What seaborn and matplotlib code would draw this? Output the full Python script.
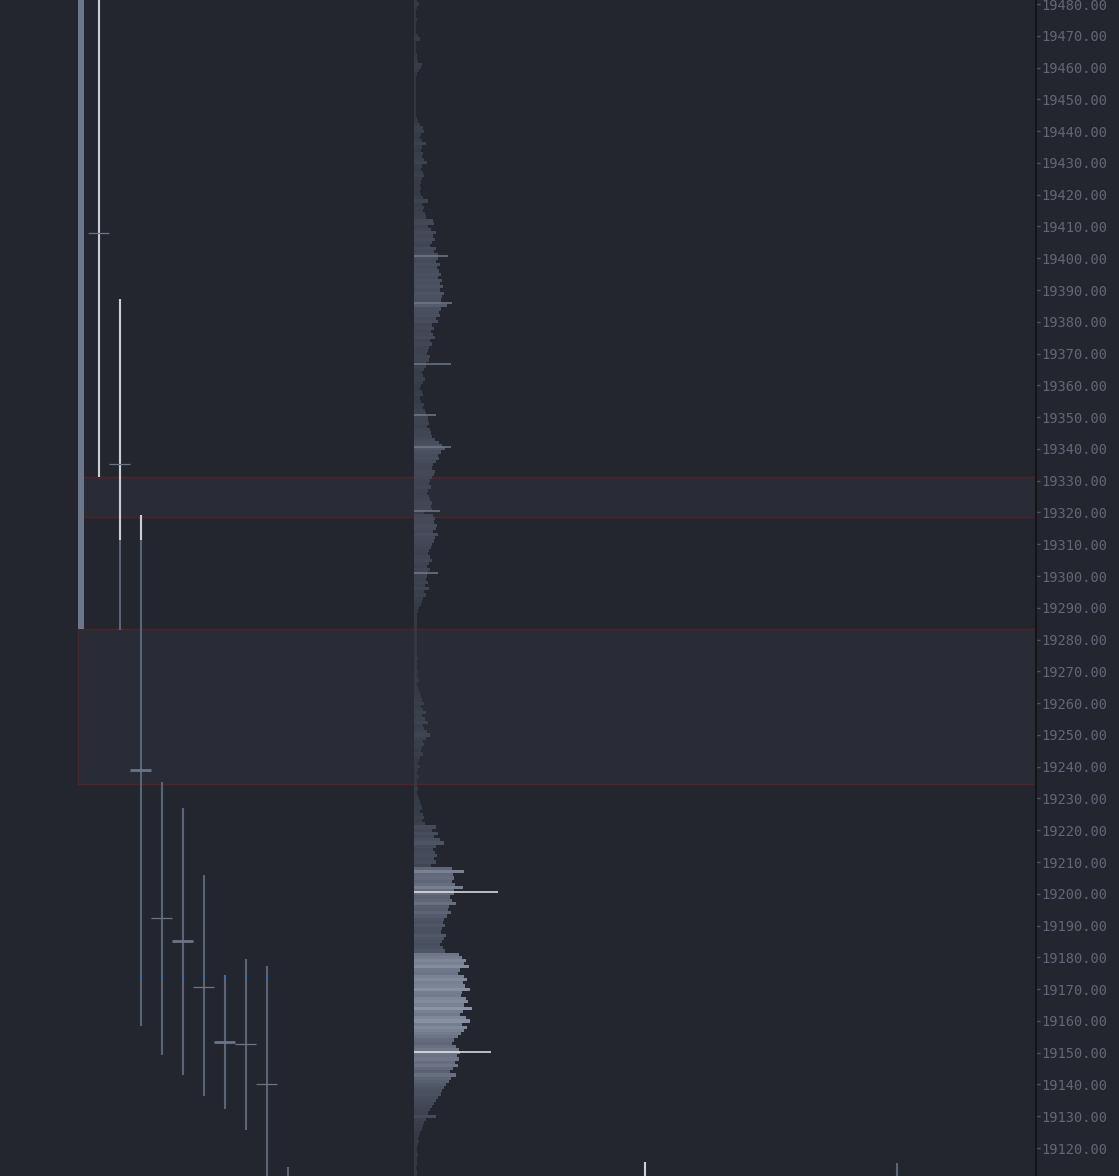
import numpy as np
import matplotlib
matplotlib.use("Agg")
import matplotlib.pyplot as plt
from matplotlib.patches import Rectangle
from matplotlib.colors import LinearSegmentedColormap
import seaborn as sns

nan = np.nan

# candles: bar index, high / low of the wick, horizontal mark (close)
candle_idx = [0, 1, 2, 3, 4, 5, 6, 7, 8, 9, 26, 38]
candle_high = [19495.0, 19387.2, 19319.2, 19235.2, 19227.1, 19205.9, 19174.5,
               19179.6, 19177.4, 19114.1, 19115.6, 19115.2]
candle_low = [19331.2, 19283.0, 19158.4, 19149.3, 19143.1, 19136.4, 19132.3,
              19125.8, 19100.0, 19100.0, 19100.0, 19100.0]
candle_mark = [19407.9, 19335.3, 19238.9, 19192.4, 19185.2, 19170.8, 19153.4,
               19152.6, 19140.3, nan, nan, nan]
mark_heavy = [False, False, True, False, True, False, True, False, False,
              False, False, False]
# lighter (recent) part of the wick
light_top = [19495.0, 19387.2, 19319.2, nan, nan, nan, nan, nan, nan, nan, 19115.6, nan]
light_bottom = [19331.2, 19311.3, 19311.3, nan, nan, nan, nan, nan, nan, nan, 19100.0, nan]

# blue level dots
level_idx = [2, 3, 4, 5, 6, 7, 8]
level_price = 19173.8

# session range bar on the left
range_idx = -0.857
range_top = 19495.0
range_bottom = 19283.3

# shaded zones
zone_start = -1.0
zone_top = [19331.2, 19283.3]
zone_bottom = [19318.6, 19234.6]

# volume profile, one row per point, from 19481 down to 19111
profile_top = 19481
profile_vol = [
    3, 5, 3, 2, 2, 2, 3, 2, 2, 2,          # 19481
    2, 4, 6, 2, 2, 2, 2, 3, 3, 4,          # 19471
    8, 7, 5, 3, 2, 2, 2, 2, 2, 2,          # 19461
    2, 2, 2, 2, 2, 2, 2, 3, 4, 6,          # 19451
    9, 10, 7, 6, 8, 12, 8, 7, 9, 8,        # 19441
    10, 13, 8, 7, 9, 10, 8, 7, 6, 7,       # 19431
    6, 7, 9, 14, 8, 10, 9, 11, 12, 19,     # 19421
    20, 14, 17, 22, 19, 21, 18, 16, 22, 20,  # 19411
    24, 24, 22, 26, 23, 25, 27, 24, 28, 26,  # 19401
    29, 26, 30, 28, 27, 27, 33, 27, 25, 26,  # 19391
    22, 24, 18, 20, 17, 19, 21, 16, 18, 15,  # 19381
    14, 13, 16, 15, 12, 12, 10, 8, 9, 11,    # 19371
    9, 7, 6, 8, 9, 6, 7, 10, 9, 11,          # 19361
    12, 14, 14, 15, 13, 16, 17, 18, 21, 25,  # 19351
    28, 31, 27, 24, 25, 22, 19, 18, 21, 20,  # 19341
    18, 16, 15, 17, 14, 13, 15, 16, 18, 17,  # 19331
    18, 10, 19, 21, 20, 23, 22, 19, 24, 21,  # 19321
    20, 18, 17, 15, 14, 16, 18, 15, 13, 16,  # 19311
    14, 13, 12, 14, 11, 15, 10, 12, 9, 8,    # 19301
    7, 5, 4, 3, 3, 3, 3, 3, 3, 3,            # 19291
    3, 3, 3, 3, 3, 3, 3, 4, 3, 3,            # 19281
    3, 4, 3, 4, 5, 3, 4, 5, 6, 7,            # 19271
    8, 10, 7, 9, 12, 8, 11, 14, 9, 10,       # 19261
    13, 16, 12, 9, 10, 8, 7, 9, 6, 5,        # 19251
    4, 6, 4, 3, 5, 3, 3, 3, 4, 3,            # 19241
    4, 5, 6, 7, 8, 6, 9, 10, 8, 11,          # 19231
    22, 18, 24, 20, 26, 30, 22, 19, 21, 23,  # 19221
    20, 22, 17, 38, 50, 39, 40, 38, 41, 49,  # 19211
    40, 40, 36, 38, 42, 35, 34, 37, 33, 30,  # 19201
    29, 31, 28, 27, 32, 30, 28, 26, 29, 31,  # 19191
    45, 48, 52, 50, 55, 46, 44, 50, 53, 49,  # 19181
    51, 56, 48, 47, 52, 54, 50, 58, 49, 46,  # 19171
    52, 56, 48, 53, 50, 47, 44, 40, 38, 42,  # 19161
    45, 46, 43, 45, 41, 44, 39, 36, 42, 37,  # 19151
    35, 32, 30, 28, 27, 24, 22, 20, 18, 16,  # 19141
    14, 22, 12, 10, 9, 8, 6, 5, 4, 5,        # 19131
    4, 3, 3, 4, 3, 3, 3, 2, 3, 3, 3,         # 19121
]
# single-tick spikes in the profile
spike_price = [19400.6, 19385.8, 19366.7, 19350.7, 19340.6, 19320.5, 19301.0, 19200.6, 19150.2]
spike_vol = [34, 38, 37, 22, 37, 26, 24, 84, 77]
spike_poc = [False, False, False, False, False, False, False, True, True]

y_ticks = np.arange(19120, 19481, 10)

# ---------------------------------------------------------------- style
bg = "#23262e"
sns.set_theme(style="dark", rc={"figure.facecolor": bg, "axes.facecolor": bg,
                                "savefig.facecolor": bg})
plt.rcParams["font.family"] = ["DejaVu Sans Mono", "DejaVu Sans"]

fig = plt.figure(figsize=(11.19, 11.76), dpi=100)
ax = fig.add_axes([0, 0, 1036 / 1119, 1])
ax.set_xlim(-4.714, 44.62)
ax.set_ylim(19111.2, 19481.26)

# zones
for top, bottom in zip(zone_top, zone_bottom):
    ax.add_patch(Rectangle((zone_start, bottom), 100, top - bottom,
                           facecolor="#292c36", edgecolor="#4e2428",
                           linewidth=1.0, zorder=1))

# volume profile
px = 1 / 21.0
profile_left = 15.0
prices = profile_top - np.arange(len(profile_vol))
vols = np.array(profile_vol, dtype=float)
cmap = LinearSegmentedColormap.from_list("vp", ["#30353f", "#4b5262", "#8a94a6"])
ax.barh(prices, vols * px, left=profile_left, height=1.0,
        color=cmap(np.clip(vols / 58.0, 0, 1)), linewidth=0, zorder=2)
for p, v, poc in zip(spike_price, spike_vol, spike_poc):
    ax.hlines(p, profile_left, profile_left + v * px,
              colors="#e6e8ec" if poc else "#6f7a8c", linewidth=1.1, zorder=3)

# range bar
ax.bar([range_idx], [range_top - range_bottom], bottom=range_bottom, width=0.286,
       color="#6c7789", linewidth=0, zorder=3)

# candles
ax.vlines(candle_idx, candle_low, candle_high, colors="#5b6475", linewidth=1.5, zorder=4)
ax.vlines(candle_idx, light_bottom, light_top, colors="#cbced4", linewidth=1.5, zorder=5)
for i, m, heavy in zip(candle_idx, candle_mark, mark_heavy):
    if not np.isnan(m):
        ax.hlines(m, i - 0.5, i + 0.5, colors="#6b7486",
                  linewidth=2.0 if heavy else 0.9, zorder=6)

sns.scatterplot(x=level_idx, y=[level_price] * len(level_idx), ax=ax,
                color="#2f6fc0", marker="s", s=4, linewidth=0, zorder=7)

# axes / price scale
ax.set_xticks([])
ax.set_yticks(y_ticks)
ax.set_yticklabels([f"{t:.2f}" for t in y_ticks])
ax.yaxis.tick_right()
ax.tick_params(axis="y", colors="#4d5461", labelcolor="#5f6777", length=3,
               width=1, pad=1, labelsize=9.9, direction="out", right=True)
ax.grid(False)
for s in ["top", "left", "bottom"]:
    ax.spines[s].set_visible(False)
ax.spines["right"].set_color("#131519")
ax.spines["right"].set_linewidth(1.5)

fig.savefig("out.png", dpi=100)
